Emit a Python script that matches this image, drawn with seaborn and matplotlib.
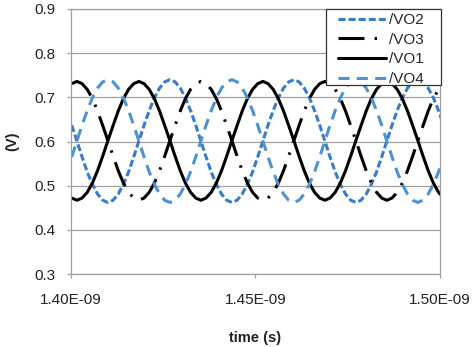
import matplotlib
matplotlib.use("Agg")
import matplotlib.pyplot as plt
import matplotlib.ticker as mticker
from matplotlib.patches import Rectangle
import numpy as np
import pandas as pd
import seaborn as sns

# Time grid (ps): one point every ~1/24 of the oscillation period
time_ps = [1400.2, 1401.6, 1403.0, 1404.4, 1405.8, 1407.2, 1408.6, 1410.0, 1411.4, 1412.8,
           1414.2, 1415.6, 1417.0, 1418.4, 1419.8, 1421.2, 1422.6, 1424.0, 1425.4, 1426.8,
           1428.2, 1429.6, 1431.0, 1432.4, 1433.8, 1435.2, 1436.6, 1438.0, 1439.4, 1440.8,
           1442.2, 1443.6, 1445.0, 1446.4, 1447.8, 1449.2, 1450.6, 1452.0, 1453.4, 1454.8,
           1456.2, 1457.6, 1459.0, 1460.4, 1461.8, 1463.2, 1464.6, 1466.0, 1467.4, 1468.8,
           1470.2, 1471.6, 1473.0, 1474.4, 1475.8, 1477.2, 1478.6, 1480.0, 1481.4, 1482.8,
           1484.2, 1485.6, 1487.0, 1488.4, 1489.8, 1491.2, 1492.6, 1494.0, 1495.4, 1496.8,
           1498.2, 1499.6, 1501.0, 1502.4]

vo1 = [0.472,
       0.467, 0.472, 0.485, 0.506, 0.534, 0.567, 0.602, 0.636, 0.669, 0.697, 0.718, 0.731,
       0.736, 0.731, 0.718, 0.697, 0.669, 0.636, 0.602, 0.567, 0.534, 0.506, 0.485, 0.472,
       0.467, 0.472, 0.485, 0.506, 0.534, 0.567, 0.602, 0.636, 0.669, 0.697, 0.718, 0.731,
       0.736, 0.731, 0.718, 0.697, 0.669, 0.636, 0.602, 0.567, 0.534, 0.506, 0.485, 0.472,
       0.467, 0.472, 0.485, 0.506, 0.534, 0.567, 0.602, 0.636, 0.669, 0.697, 0.718, 0.731,
       0.736, 0.731, 0.718, 0.697, 0.669, 0.636, 0.602, 0.567, 0.534, 0.506, 0.485, 0.472,
       0.467]

vo2 = [0.637, 0.601, 0.565, 0.531, 0.503, 0.481, 0.467,
       0.462, 0.467, 0.481, 0.503, 0.531, 0.565, 0.601, 0.637, 0.670, 0.699, 0.721, 0.735,
       0.740, 0.735, 0.721, 0.699, 0.670, 0.637, 0.601, 0.565, 0.531, 0.503, 0.481, 0.467,
       0.462, 0.467, 0.481, 0.503, 0.531, 0.565, 0.601, 0.637, 0.670, 0.699, 0.721, 0.735,
       0.740, 0.735, 0.721, 0.699, 0.670, 0.637, 0.601, 0.565, 0.531, 0.503, 0.481, 0.467,
       0.462, 0.467, 0.481, 0.503, 0.531, 0.565, 0.601, 0.637, 0.670, 0.699, 0.721, 0.735,
       0.740, 0.735, 0.721, 0.699, 0.670, 0.637, 0.601]

vo3 = [0.731, 0.736, 0.731, 0.718, 0.697, 0.669, 0.636, 0.602, 0.567, 0.534, 0.506, 0.485, 0.472,
       0.467, 0.472, 0.485, 0.506, 0.534, 0.567, 0.602, 0.636, 0.669, 0.697, 0.718, 0.731,
       0.736, 0.731, 0.718, 0.697, 0.669, 0.636, 0.602, 0.567, 0.534, 0.506, 0.485, 0.472,
       0.467, 0.472, 0.485, 0.506, 0.534, 0.567, 0.602, 0.636, 0.669, 0.697, 0.718, 0.731,
       0.736, 0.731, 0.718, 0.697, 0.669, 0.636, 0.602, 0.567, 0.534, 0.506, 0.485, 0.472,
       0.467, 0.472, 0.485, 0.506, 0.534, 0.567, 0.602, 0.636, 0.669, 0.697, 0.718, 0.731,
       0.736]

vo4 = [0.565, 0.601, 0.637, 0.670, 0.699, 0.721, 0.735,
       0.740, 0.735, 0.721, 0.699, 0.670, 0.637, 0.601, 0.565, 0.531, 0.503, 0.481, 0.467,
       0.462, 0.467, 0.481, 0.503, 0.531, 0.565, 0.601, 0.637, 0.670, 0.699, 0.721, 0.735,
       0.740, 0.735, 0.721, 0.699, 0.670, 0.637, 0.601, 0.565, 0.531, 0.503, 0.481, 0.467,
       0.462, 0.467, 0.481, 0.503, 0.531, 0.565, 0.601, 0.637, 0.670, 0.699, 0.721, 0.735,
       0.740, 0.735, 0.721, 0.699, 0.670, 0.637, 0.601, 0.565, 0.531, 0.503, 0.481, 0.467,
       0.462, 0.467, 0.481, 0.503, 0.531, 0.565, 0.601]

series_order = ["/VO2", "/VO3", "/VO1", "/VO4"]
x_ticks = [1.40e-9, 1.45e-9, 1.50e-9]
y_ticks = [0.3, 0.4, 0.5, 0.6, 0.7, 0.8, 0.9]

frames = []
for name, vals in zip(series_order, [vo2, vo3, vo1, vo4]):
    frames.append(pd.DataFrame({"time": np.array(time_ps) * 1e-12,
                                "V": vals, "signal": name}))
df = pd.concat(frames, ignore_index=True)

sns.set_style("white")
plt.rcParams["font.family"] = ["Liberation Sans", "DejaVu Sans"]

W, H = 474, 347
fig = plt.figure(figsize=(W / 100, H / 100), dpi=100)
ax = fig.add_axes([71 / W, 1 - 274 / H, (440 - 71) / W, (274 - 9) / H])

palette = {"/VO2": "#3A7CC6", "/VO3": "#000000", "/VO1": "#000000", "/VO4": "#4D92D4"}
dashes = {"/VO2": (2.3, 1.0), "/VO3": (8.5, 3.3, 0.8, 3.3), "/VO1": "", "/VO4": (3.6, 2.4)}

sns.lineplot(data=df, x="time", y="V", hue="signal", style="signal",
             hue_order=series_order, style_order=series_order,
             palette=palette, dashes=dashes, linewidth=2.2, ax=ax,
             estimator=None, sort=False)

ax.set_xlim(1.40e-9, 1.50e-9)
ax.set_ylim(0.3, 0.9)
ax.set_xticks(x_ticks)
ax.set_yticks(y_ticks)
ax.xaxis.set_major_formatter(mticker.FuncFormatter(lambda v, p: f"{v:.2E}"))
ax.yaxis.set_major_formatter(mticker.FuncFormatter(lambda v, p: f"{v:.1f}"))
ax.grid(axis="y", color="#A0A0A0", linewidth=0.9)
ax.grid(axis="x", visible=False)
ax.set_axisbelow(True)
for s in ax.spines.values():
    s.set_color("#A0A0A0")
    s.set_linewidth(0.9)
ax.tick_params(axis="both", which="major", length=3, width=0.9, color="#A0A0A0",
               labelsize=11, labelcolor="#222222", direction="out")
ax.tick_params(axis="y", pad=8)
ax.tick_params(axis="x", pad=11)
ax.tick_params(bottom=True, left=True)

ax.set_xlabel("time (s)", fontsize=10.5, fontweight="bold", color="#222222", labelpad=17)
ax.set_ylabel("(V)", fontsize=10.5, fontweight="bold", color="#222222", labelpad=11)

# Legend: framed box drawn at figure level, entries placed over it
handles, labels = ax.get_legend_handles_labels()
ax.get_legend().remove()
box = Rectangle((326 / W, 1 - 85 / H), (441 - 326) / W, (85 - 9) / H,
                transform=fig.transFigure, facecolor="white", edgecolor="#333333",
                linewidth=0.9, zorder=4)
fig.add_artist(box)
leg = fig.legend(handles, labels, loc="upper left",
                 bbox_to_anchor=(338 / W, 1 - 13 / H), borderaxespad=0,
                 fontsize=11, handlelength=3.15, handletextpad=0.2,
                 labelspacing=0.37, frameon=False, borderpad=0)
leg.set_zorder(5)

fig.savefig("out.png", dpi=100)
